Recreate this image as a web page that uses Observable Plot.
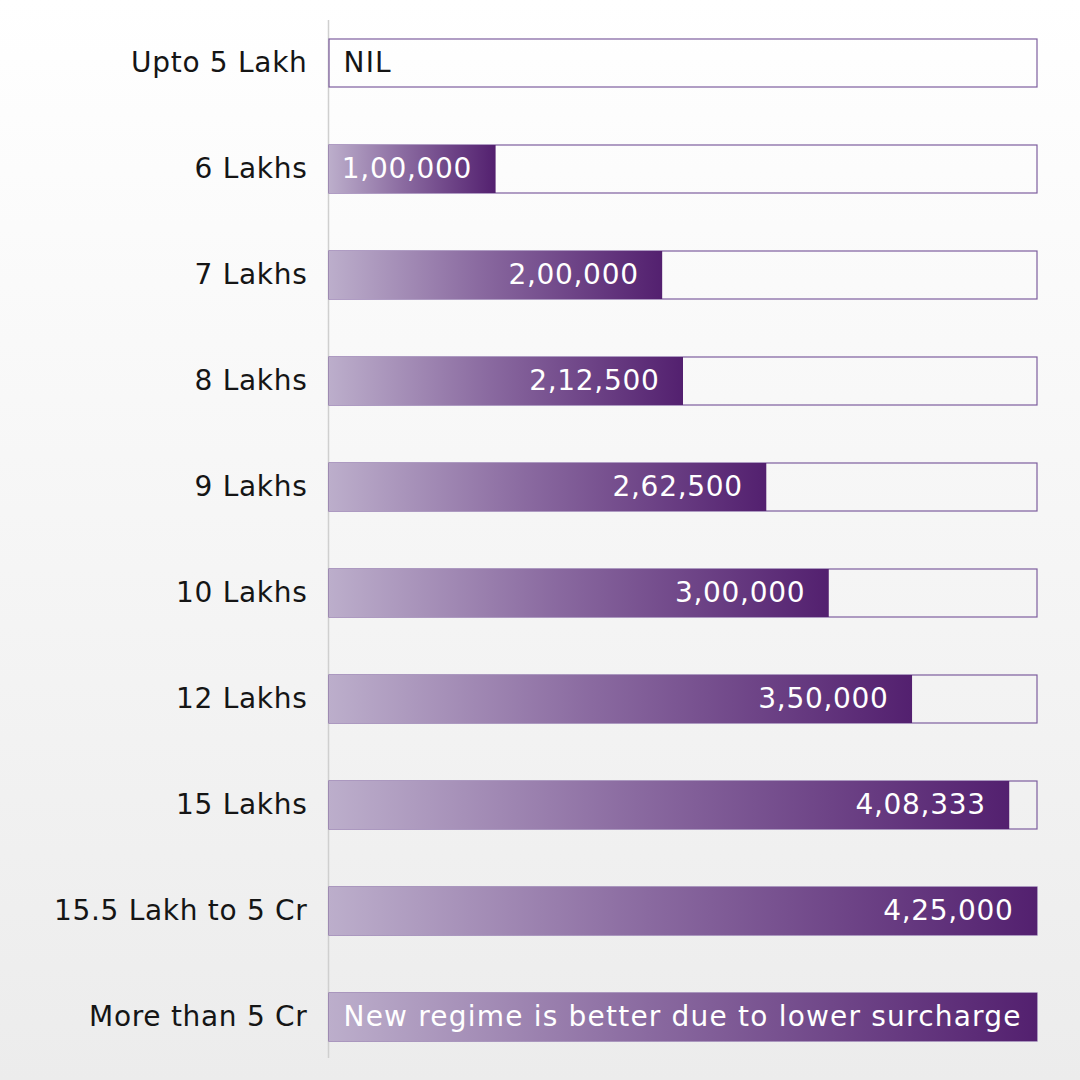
<!DOCTYPE html>
<html>
<head>
<meta charset="utf-8">
<script src="https://cdn.jsdelivr.net/npm/d3@7"></script>
<script src="https://cdn.jsdelivr.net/npm/@observablehq/plot@0.6"></script>
<style>
  html, body { margin: 0; padding: 0; }
  body { width: 1080px; height: 1080px; background: linear-gradient(to bottom, #ffffff 0%, #ececec 100%); overflow: hidden; }
  #chart svg { display: block; background: transparent; }
  #chart svg text { letter-spacing: 0.7px; }
  #chart svg g.note text { letter-spacing: 1.2px; }
</style>
</head>
<body>
<div id="chart"></div>
<script>
const categories = ["Upto 5 Lakh", "6 Lakhs", "7 Lakhs", "8 Lakhs", "9 Lakhs", "10 Lakhs", "12 Lakhs", "15 Lakhs", "15.5 Lakh to 5 Cr", "More than 5 Cr"];
const values = [0, 100000, 200000, 212500, 262500, 300000, 350000, 408333, 425000, 425000];
const labels = ["NIL", "1,00,000", "2,00,000", "2,12,500", "2,62,500", "3,00,000", "3,50,000", "4,08,333", "4,25,000", "New regime is better due to lower surcharge"];
const labelAtStart = [true, false, false, false, false, false, false, false, false, true];
const maxValue = 425000;

const rows = categories.map((c, i) => ({category: c, value: values[i], label: labels[i], start: labelAtStart[i]}));
const FONT = "DejaVu Sans";

const plot = Plot.plot({
  width: 1080,
  height: 1080,
  marginLeft: 329,
  marginRight: 43,
  marginTop: 10,
  marginBottom: 10,
  style: {fontFamily: FONT, background: "transparent"},
  x: {domain: [0, maxValue], axis: null},
  y: {domain: categories, paddingInner: 0.547, paddingOuter: 0.2735, label: null, tickSize: 0, tickPadding: 22},
  marks: [
    Plot.ruleX([0], {stroke: "#cfcfcf", strokeWidth: 1.5, dx: -1, insetTop: 10, insetBottom: 12}),
    Plot.barX(rows, {y: "category", x1: 0, x2: maxValue, fill: "none", stroke: "#7d5e9e", strokeWidth: 1.2}),
    Plot.barX(rows.filter(d => d.value > 0), {y: "category", x: "value", fill: "url(#barGrad)"}),
    Plot.axisY({fontSize: 28, tickSize: 0, tickPadding: 22, fill: "#151515", label: null}),
    Plot.text(rows.filter(d => !d.start), {y: "category", x: "value", text: "label", textAnchor: "end", dx: -24, fill: "#fff", fontSize: 28}),
    Plot.text(rows.filter(d => d.start), {y: "category", x: 0, text: "label", textAnchor: "start", dx: 14, fill: d => d.value > 0 ? "#fff" : "#151515", fontSize: 28, className: "note"})
  ]
});

const svg = d3.select(plot);
const defs = svg.insert("defs", ":first-child");
const g = defs.append("linearGradient").attr("id", "barGrad").attr("x1", "0").attr("x2", "1").attr("y1", "0").attr("y2", "0");
g.append("stop").attr("offset", "0%").attr("stop-color", "#bcaecb");
g.append("stop").attr("offset", "45%").attr("stop-color", "#8a6aa0");
g.append("stop").attr("offset", "100%").attr("stop-color", "#53206f");

document.getElementById("chart").appendChild(plot);
</script>
</body>
</html>
